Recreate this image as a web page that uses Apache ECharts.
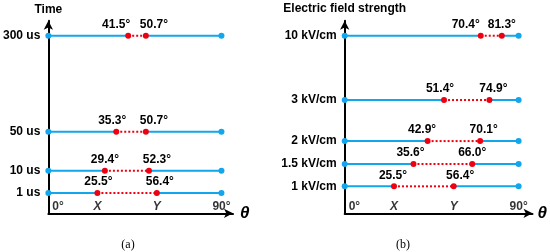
<!DOCTYPE html>
<html><head><meta charset="utf-8">
<script src="https://cdn.jsdelivr.net/npm/echarts@6/dist/echarts.min.js"></script>
<style>html,body{margin:0;padding:0;background:#fff}#c{width:550px;height:252px}</style>
</head><body><div id="c"></div>
<script>
// ---- data ----
const timeCategories = ['1 us', '10 us', '50 us', '300 us'];
const timeLevels = [1.05, 2.21, 4.24, 9.22];
const timeX = [25.5, 29.4, 35.3, 41.5];
const timeY = [56.4, 52.3, 50.7, 50.7];

const fieldCategories = ['1 kV/cm', '1.5 kV/cm', '2 kV/cm', '3 kV/cm', '10 kV/cm'];
const fieldLevels = [1.40, 2.56, 3.75, 5.88, 9.22];
const fieldX = [25.5, 35.6, 42.9, 51.4, 70.4];
const fieldY = [56.4, 66.0, 70.1, 74.9, 81.3];

const thetaRange = [0, 90];
const xTickLabels = ['0°', 'X', 'Y', '90°'];

// ---- styles ----
const BLUE = '#12a6ec';
const RED = '#ee0010';
const FONT = '"Liberation Sans", Arial, sans-serif';
const timeNudge = { x: [1, 0, -4, -12], y: [3, 8, 8, 8] };
const fieldNudge = { x: [-1, -3, -5.5, -4, -15], y: [6.5, 0, 3.5, 4, 0] };

const series = [];
function buildPanel(g, cats, levels, xs, ys, nudge) {
  levels.forEach((l, i) => {
    series.push({
      type: 'line', xAxisIndex: g, yAxisIndex: g, silent: true, clip: false, z: 2,
      connectNulls: false,
      data: [
        { value: [thetaRange[0], l] },
        { value: [xs[i], l], symbol: 'none' },
        '-',
        { value: [ys[i], l], symbol: 'none' },
        { value: [thetaRange[1], l] }
      ],
      symbol: 'circle', symbolSize: 6,
      itemStyle: { color: BLUE }, lineStyle: { color: BLUE, width: 2 }
    });
    const lbl = { show: true, position: 'top', distance: 2, color: '#000', fontFamily: FONT,
      fontWeight: 'bold', fontSize: 12, formatter: p => p.value[0].toFixed(1) + '°' };
    series.push({
      type: 'line', xAxisIndex: g, yAxisIndex: g, silent: true, clip: false, z: 3,
      data: [
        { value: [xs[i], l], label: { offset: [nudge.x[i], 0] } },
        { value: [ys[i], l], label: { offset: [nudge.y[i], 0] } }
      ],
      symbol: 'circle', symbolSize: 6,
      itemStyle: { color: RED }, lineStyle: { color: RED, width: 2, type: [2, 2] },
      label: lbl
    });
  });
  const tickVals = [thetaRange[0], xs[0], ys[0], thetaRange[1]];
  series.push({
    type: 'scatter', xAxisIndex: g, yAxisIndex: g, silent: true, symbolSize: 0, z: 4,
    data: tickVals.map((v, k) => ({
      value: [v, 0.35],
      label: k === 0 ? { align: 'left', offset: [4, 0] } : (k === 1 || k === 2 ? { fontStyle: 'italic' } : {})
    })),
    label: { show: true, position: 'inside', color: '#000', fontFamily: FONT, fontWeight: 'bold', fontSize: 12,
      formatter: p => xTickLabels[p.dataIndex] }
  });
}
buildPanel(0, timeCategories, timeLevels, timeX, timeY, timeNudge);
buildPanel(1, fieldCategories, fieldLevels, fieldX, fieldY, fieldNudge);

function xAxis(g, max, nameGap, pad) {
  return {
    type: 'value', gridIndex: g, min: 0, max: max,
    axisLine: { show: true, lineStyle: { color: '#000', width: 2 }, symbol: ['none', 'arrow'], symbolSize: [7, 9] },
    axisTick: { show: false }, axisLabel: { show: false }, splitLine: { show: false },
    name: 'θ', nameLocation: 'end', nameGap: nameGap,
    nameTextStyle: { fontFamily: FONT, fontWeight: 'bold', fontStyle: 'italic', fontSize: 17, color: '#000', padding: pad }
  };
}
function yAxis(g, cats, levels, name, nameGap) {
  return {
    type: 'value', gridIndex: g, min: 0, max: 10,
    axisLine: { show: true, lineStyle: { color: '#000', width: 2 }, symbol: ['none', 'arrow'], symbolSize: [7, 9] },
    axisTick: { show: false }, splitLine: { show: false },
    axisLabel: {
      customValues: levels, margin: 8, color: '#000', fontFamily: FONT, fontWeight: 'bold', fontSize: 12,
      formatter: v => {
        let best = 0;
        levels.forEach((l, i) => { if (Math.abs(l - v) < Math.abs(levels[best] - v)) best = i; });
        return cats[best];
      }
    },
    name: name, nameLocation: 'end', nameGap: nameGap,
    nameTextStyle: { fontFamily: FONT, fontWeight: 'bold', fontSize: 12, color: '#000' }
  };
}

const chart = echarts.init(document.getElementById('c'), null, { renderer: 'canvas' });
chart.setOption({
  animation: false,
  backgroundColor: '#fff',
  grid: [
    { left: 47.7, top: 20.7, width: 185.3, height: 192.6 },
    { left: 344.7, top: 20.7, width: 188.6, height: 192.6 }
  ],
  xAxis: [xAxis(0, 96, 7, [0, 0, 12, 0]), xAxis(1, 97.2, 5, [0, 0, 6, 0])],
  yAxis: [yAxis(0, timeCategories, timeLevels, 'Time', 5), yAxis(1, fieldCategories, fieldLevels, 'Electric field strength', 6)],
  series: series,
  graphic: [
    { type: 'text', x: 128, y: 245, style: { text: '(a)', font: '12px "Liberation Serif", serif', fill: '#000', textAlign: 'center', textVerticalAlign: 'middle' } },
    { type: 'text', x: 403, y: 245, style: { text: '(b)', font: '12px "Liberation Serif", serif', fill: '#000', textAlign: 'center', textVerticalAlign: 'middle' } }
  ]
});
</script>
</body></html>
